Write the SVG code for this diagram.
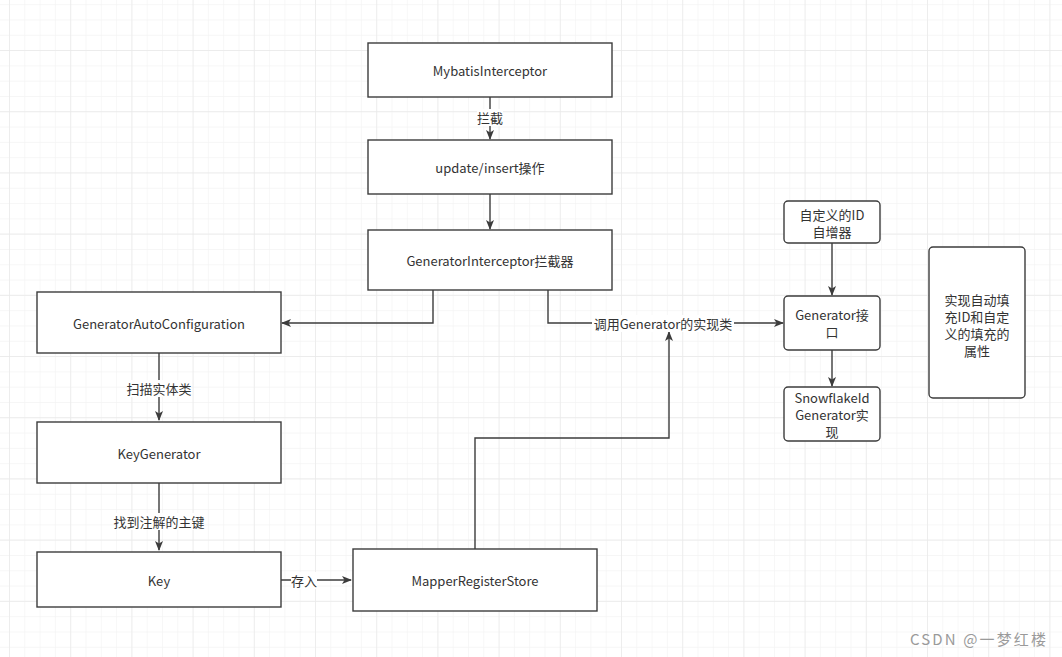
<svg xmlns="http://www.w3.org/2000/svg" width="1062" height="657" viewBox="0 0 1062 657">
<style>
.n{fill:#fff;stroke:#3c3c3c;stroke-width:1.4}
.t{font-family:"Noto Sans CJK SC","Noto Sans",sans-serif;font-size:13px;fill:#333;text-anchor:middle;dominant-baseline:central}
.c{fill:none;stroke:#3c3c3c;stroke-width:1.4}
.lb{fill:#fff}
</style>
<defs>
<pattern id="minor" width="15.3" height="15.3" patternUnits="userSpaceOnUse" x="9" y="4.2">
<path d="M0 0V15.3M0 0H15.3" fill="none" stroke="#f3f3f3" stroke-width="1.3"/>
</pattern>
<pattern id="major" width="61.2" height="61.2" patternUnits="userSpaceOnUse" x="9" y="50">
<path d="M0 0V61.2M0 0H61.2" fill="none" stroke="#e9e9e9" stroke-width="1.3"/>
</pattern>
<marker id="ar" markerWidth="10" markerHeight="10" refX="9" refY="5" orient="auto" markerUnits="userSpaceOnUse">
<path d="M0 1L10 5L0 9L2.5 5Z" fill="#3c3c3c"/>
</marker>
</defs>
<rect width="1062" height="657" fill="#fff"/>
<rect width="1062" height="657" fill="url(#minor)"/>
<rect width="1062" height="657" fill="url(#major)"/>

<g id="connectors">
<path class="c" d="M490 97V139" marker-end="url(#ar)"/>
<path class="c" d="M490 194V229" marker-end="url(#ar)"/>
<path class="c" d="M433 290V323H282" marker-end="url(#ar)"/>
<path class="c" d="M548 290V323H783" marker-end="url(#ar)"/>
<path class="c" d="M475 549V438H669V332" marker-end="url(#ar)"/>
<path class="c" d="M159 353V420" marker-end="url(#ar)"/>
<path class="c" d="M159 483V550" marker-end="url(#ar)"/>
<path class="c" d="M281 580H351" marker-end="url(#ar)"/>
<path class="c" d="M832 243V295" marker-end="url(#ar)"/>
<path class="c" d="M832 350V386" marker-end="url(#ar)"/>
<rect class="lb" x="477" y="109" width="26" height="17"/>
<text class="t" x="490" y="117">拦截</text>
<rect class="lb" x="592" y="315" width="142" height="17"/>
<text class="t" x="663" y="323">调用Generator的实现类</text>
<rect class="lb" x="127" y="380" width="64" height="17"/>
<text class="t" x="159" y="388">扫描实体类</text>
<rect class="lb" x="114" y="513" width="90" height="17"/>
<text class="t" x="159" y="521">找到注解的主键</text>
<rect class="lb" x="291" y="572" width="26" height="17"/>
<text class="t" x="304" y="580">存入</text>
</g>

<g id="n-mybatis"><rect class="n" x="368" y="43" width="244" height="54"/><text class="t" x="490" y="70">MybatisInterceptor</text></g>
<g id="n-update"><rect class="n" x="368" y="140" width="244" height="54"/><text class="t" x="490" y="167">update/insert操作</text></g>
<g id="n-geninterceptor"><rect class="n" x="368" y="230" width="244" height="60"/><text class="t" x="490" y="260">GeneratorInterceptor拦截器</text></g>
<g id="n-autoconf"><rect class="n" x="37" y="292" width="244" height="61"/><text class="t" x="159" y="323">GeneratorAutoConfiguration</text></g>
<g id="n-keygen"><rect class="n" x="37" y="422" width="244" height="61"/><text class="t" x="159" y="453">KeyGenerator</text></g>
<g id="n-key"><rect class="n" x="37" y="552" width="244" height="55"/><text class="t" x="159" y="580">Key</text></g>
<g id="n-mapper"><rect class="n" x="353" y="549" width="244" height="62"/><text class="t" x="475" y="580">MapperRegisterStore</text></g>
<g id="n-custom"><rect class="n" x="784" y="201" width="96" height="42" rx="4"/><text class="t" x="832" y="214">自定义的ID</text><text class="t" x="832" y="231">自增器</text></g>
<g id="n-generator"><rect class="n" x="784" y="296" width="96" height="54" rx="4"/><text class="t" x="832" y="314">Generator接</text><text class="t" x="832" y="331">口</text></g>
<g id="n-snowflake"><rect class="n" x="784" y="387" width="96" height="54" rx="4"/><text class="t" x="832" y="397">SnowflakeId</text><text class="t" x="832" y="414">Generator实</text><text class="t" x="832" y="431">现</text></g>
<g id="n-note"><rect class="n" x="929" y="247" width="96" height="151" rx="4"/><text class="t" x="977" y="299">实现自动填</text><text class="t" x="977" y="316">充ID和自定</text><text class="t" x="977" y="333">义的填充的</text><text class="t" x="977" y="350">属性</text></g>

<text x="910" y="638" font-family="'Noto Sans CJK SC','Noto Sans',sans-serif" font-size="15" fill="#9a9a9a" dominant-baseline="central" textLength="136" lengthAdjust="spacing">CSDN @一梦红楼</text>
</svg>
